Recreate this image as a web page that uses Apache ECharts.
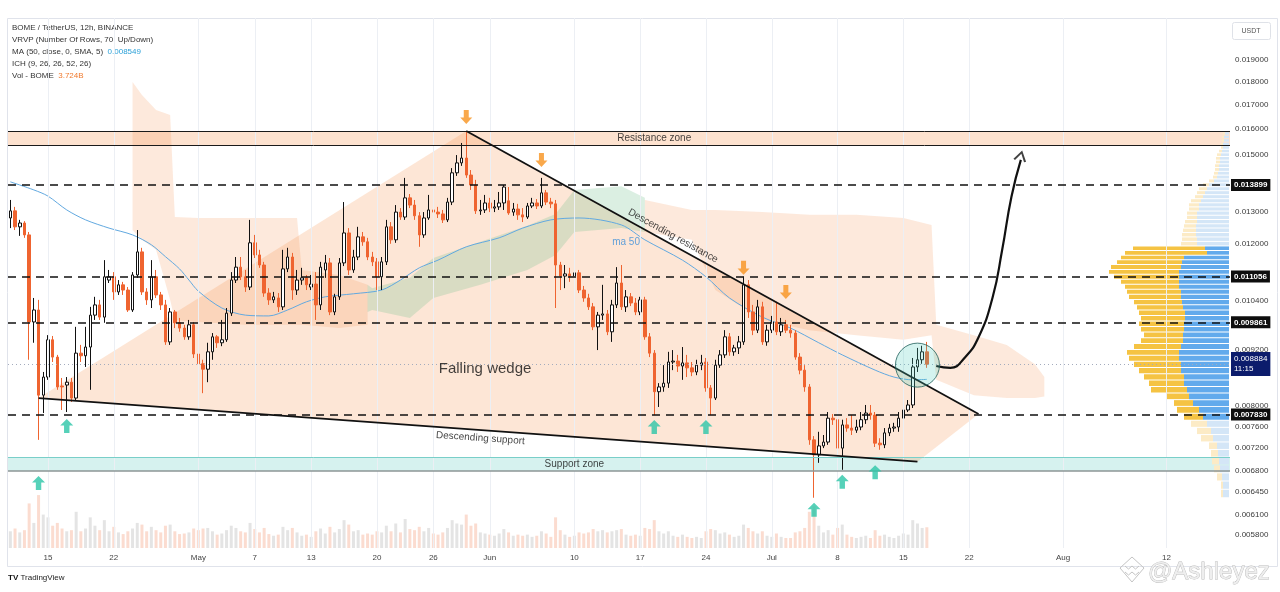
<!DOCTYPE html>
<html><head><meta charset="utf-8">
<script src="https://cdn.jsdelivr.net/npm/echarts@6/dist/echarts.min.js"></script>
<style>html,body{margin:0;padding:0;background:#fff}#c{width:1280px;height:592px}</style>
</head><body><div id="c"></div><script>
// ---------------- DATA ----------------
const slotStartUTC = Date.UTC(2024, 3, 11, 0);   // first 12h candle
const slotCount = 260;                            // visible 12h slots incl. future space
const timeTicks = [['2024-04-15','15'],['2024-04-22','22'],['2024-05-01','May'],['2024-05-07','7'],['2024-05-13','13'],['2024-05-20','20'],['2024-05-26','26'],['2024-06-01','Jun'],['2024-06-10','10'],['2024-06-17','17'],['2024-06-24','24'],['2024-07-01','Jul'],['2024-07-08','8'],['2024-07-15','15'],['2024-07-22','22'],['2024-08-01','Aug'],['2024-08-12','12']];
const priceTicks = [0.019, 0.018, 0.017, 0.016, 0.015, 0.013, 0.012, 0.0104, 0.0092, 0.008, 0.0076, 0.0072, 0.0068, 0.00645, 0.0061, 0.0058];
const keyLevels = [0.013899, 0.011056, 0.009861, 0.00783];
const lastPrice = 0.008884;
const resistanceZone = [0.01591, 0.01536];
const supportZone = [0.007044, 0.0068];

// [open, close, low, high]
const candles = [
[0.01280,0.01303,0.01248,0.01339],[0.01303,0.01252,0.01242,0.01316],[0.01252,0.01264,0.01224,0.01274],[0.01264,0.01227,0.01218,0.01270],
[0.01227,0.00987,0.00898,0.01236],[0.00987,0.01017,0.00937,0.01048],[0.01017,0.00822,0.00735,0.01043],[0.00822,0.00860,0.00786,0.00871],
[0.00860,0.00944,0.00854,0.00955],[0.00944,0.00904,0.00893,0.00953],[0.00904,0.00839,0.00833,0.00909],[0.00841,0.00839,0.00792,0.00858],
[0.00843,0.00849,0.00788,0.00860],[0.00849,0.00816,0.00808,0.00858],[0.00816,0.00913,0.00812,0.00975],[0.00913,0.00907,0.00893,0.00932],
[0.00907,0.00927,0.00882,0.00975],[0.00927,0.01004,0.00833,0.01025],[0.01004,0.01030,0.00992,0.01051],[0.01030,0.00999,0.00992,0.01043],
[0.00999,0.01105,0.00985,0.01152],[0.01096,0.01105,0.01088,0.01124],[0.01105,0.01064,0.01043,0.01118],[0.01064,0.01083,0.01056,0.01096],
[0.01083,0.01069,0.01056,0.01091],[0.01069,0.01017,0.01012,0.01077],[0.01017,0.01110,0.01012,0.01118],[0.01110,0.01176,0.01102,0.01242],
[0.01176,0.01064,0.01056,0.01188],[0.01064,0.01043,0.01030,0.01074],[0.01043,0.01105,0.01022,0.01152],[0.01105,0.01056,0.01048,0.01124],
[0.01056,0.01030,0.01017,0.01064],[0.01030,0.00939,0.00932,0.01043],[0.00939,0.01012,0.00932,0.01022],[0.01012,0.00985,0.00972,0.01017],
[0.00985,0.00972,0.00963,0.00997],[0.00972,0.00951,0.00944,0.00980],[0.00951,0.00980,0.00944,0.00992],[0.00980,0.00911,0.00902,0.00987],
[0.00911,0.00889,0.00880,0.00920],[0.00889,0.00877,0.00826,0.00898],[0.00877,0.00916,0.00849,0.00937],[0.00916,0.00951,0.00898,0.00960],
[0.00951,0.00937,0.00925,0.00955],[0.00937,0.00944,0.00929,0.00992],[0.00944,0.01009,0.00939,0.01022],[0.01009,0.01096,0.01002,0.01118],
[0.01096,0.01132,0.01088,0.01161],[0.01132,0.01105,0.01096,0.01161],[0.01105,0.01077,0.01064,0.01124],[0.01077,0.01203,0.01069,0.01274],
[0.01203,0.01167,0.01158,0.01227],[0.01167,0.01138,0.01130,0.01182],[0.01138,0.01061,0.01051,0.01147],[0.01061,0.01043,0.01030,0.01074],
[0.01043,0.01051,0.01035,0.01064],[0.01048,0.01025,0.01012,0.01061],[0.01025,0.01127,0.01017,0.01182],[0.01127,0.01161,0.01118,0.01188],
[0.01161,0.01069,0.01043,0.01173],[0.01069,0.01096,0.01056,0.01124],[0.01096,0.01102,0.01083,0.01130],[0.01102,0.01083,0.01069,0.01110],
[0.01077,0.01085,0.01069,0.01110],[0.01085,0.01030,0.00992,0.01118],[0.01030,0.01132,0.01017,0.01147],[0.01124,0.01144,0.01102,0.01167],
[0.01144,0.01012,0.01004,0.01158],[0.01012,0.01051,0.01004,0.01059],[0.01051,0.01144,0.01043,0.01158],[0.01144,0.01233,0.01135,0.01332],
[0.01233,0.01124,0.01110,0.01248],[0.01124,0.01161,0.01116,0.01182],[0.01161,0.01221,0.01152,0.01252],[0.01221,0.01206,0.01194,0.01236],
[0.01206,0.01161,0.01152,0.01218],[0.01161,0.01147,0.01135,0.01176],[0.01147,0.01105,0.01069,0.01158],[0.01105,0.01147,0.01069,0.01161],
[0.01147,0.01252,0.01138,0.01274],[0.01252,0.01212,0.01200,0.01267],[0.01212,0.01299,0.01203,0.01322],[0.01299,0.01283,0.01274,0.01312],
[0.01283,0.01346,0.01274,0.01415],[0.01346,0.01322,0.01312,0.01359],[0.01322,0.01287,0.01274,0.01339],[0.01287,0.01227,0.01191,0.01299],
[0.01227,0.01280,0.01218,0.01299],[0.01280,0.01306,0.01274,0.01356],[0.01306,0.01299,0.01287,0.01322],[0.01299,0.01293,0.01280,0.01316],
[0.01293,0.01274,0.01264,0.01306],[0.01274,0.01332,0.01267,0.01346],[0.01332,0.01433,0.01322,0.01450],[0.01433,0.01469,0.01422,0.01498],
[0.01469,0.01487,0.01458,0.01544],[0.01487,0.01425,0.01415,0.01587],[0.01425,0.01390,0.01373,0.01443],[0.01390,0.01303,0.01293,0.01408],
[0.01303,0.01306,0.01290,0.01339],[0.01306,0.01329,0.01296,0.01356],[0.01329,0.01312,0.01299,0.01346],[0.01312,0.01316,0.01299,0.01339],
[0.01316,0.01329,0.01306,0.01366],[0.01329,0.01383,0.01306,0.01390],[0.01336,0.01296,0.01290,0.01383],[0.01299,0.01309,0.01287,0.01329],
[0.01309,0.01290,0.01274,0.01326],[0.01290,0.01283,0.01267,0.01312],[0.01283,0.01319,0.01277,0.01329],[0.01319,0.01329,0.01312,0.01346],
[0.01329,0.01319,0.01309,0.01342],[0.01319,0.01363,0.01312,0.01415],[0.01363,0.01332,0.01322,0.01373],[0.01332,0.01326,0.01312,0.01346],
[0.01326,0.01138,0.01022,0.01339],[0.01138,0.01107,0.01069,0.01147],[0.01107,0.01113,0.01074,0.01138],[0.01113,0.01107,0.01091,0.01130],
[0.01107,0.01116,0.01096,0.01138],[0.01116,0.01069,0.01061,0.01124],[0.01069,0.01048,0.01038,0.01080],[0.01048,0.01025,0.01017,0.01059],
[0.01025,0.00975,0.00967,0.01035],[0.00975,0.01004,0.00920,0.01012],[0.01004,0.01007,0.00992,0.01083],[0.01007,0.00963,0.00955,0.01017],
[0.00963,0.01030,0.00939,0.01043],[0.01030,0.01088,0.01022,0.01132],[0.01088,0.01025,0.01017,0.01138],[0.01025,0.01051,0.01012,0.01069],
[0.01051,0.01035,0.01027,0.01061],[0.01035,0.01012,0.01004,0.01048],[0.01012,0.01043,0.01004,0.01051],[0.01043,0.00951,0.00944,0.01051],
[0.00951,0.00913,0.00904,0.00960],[0.00913,0.00829,0.00782,0.00920],[0.00829,0.00839,0.00798,0.00847],[0.00839,0.00847,0.00829,0.00886],
[0.00847,0.00893,0.00837,0.00916],[0.00893,0.00895,0.00875,0.00920],[0.00895,0.00884,0.00871,0.00909],[0.00884,0.00891,0.00854,0.00927],
[0.00891,0.00880,0.00860,0.00909],[0.00880,0.00871,0.00862,0.00893],[0.00871,0.00886,0.00864,0.00898],[0.00886,0.00891,0.00875,0.00909],
[0.00893,0.00837,0.00829,0.00902],[0.00837,0.00816,0.00782,0.00843],[0.00816,0.00886,0.00812,0.00898],[0.00886,0.00909,0.00880,0.00920],
[0.00909,0.00951,0.00902,0.00967],[0.00951,0.00916,0.00907,0.00960],[0.00916,0.00925,0.00907,0.00932],[0.00925,0.00939,0.00911,0.00953],
[0.00939,0.01083,0.00932,0.01105],[0.01083,0.01012,0.00997,0.01096],[0.01012,0.00967,0.00955,0.01030],[0.00967,0.01025,0.00960,0.01043],
[0.01025,0.00939,0.00932,0.01038],[0.00939,0.00967,0.00930,0.00980],[0.00967,0.00987,0.00960,0.01002],[0.00987,0.00963,0.00955,0.01038],
[0.00963,0.00980,0.00953,0.00997],[0.00980,0.00967,0.00960,0.00992],[0.00967,0.00960,0.00949,0.00980],[0.00960,0.00904,0.00898,0.00967],
[0.00904,0.00875,0.00866,0.00913],[0.00875,0.00839,0.00829,0.00886],[0.00839,0.00735,0.00726,0.00845],[0.00735,0.00708,0.00636,0.00742],
[0.00708,0.00724,0.00694,0.00750],[0.00724,0.00731,0.00720,0.00744],[0.00731,0.00776,0.00726,0.00788],[0.00776,0.00773,0.00763,0.00784],
[0.00773,0.00720,0.00713,0.00808],[0.00720,0.00763,0.00682,0.00773],[0.00763,0.00757,0.00750,0.00776],[0.00757,0.00753,0.00744,0.00782],
[0.00753,0.00759,0.00748,0.00773],[0.00759,0.00773,0.00753,0.00788],[0.00773,0.00786,0.00765,0.00802],[0.00786,0.00782,0.00773,0.00802],
[0.00782,0.00729,0.00722,0.00788],[0.00729,0.00726,0.00717,0.00738],[0.00726,0.00748,0.00720,0.00757],[0.00748,0.00757,0.00742,0.00765],
[0.00757,0.00759,0.00750,0.00767],[0.00759,0.00776,0.00750,0.00788],[0.00776,0.00792,0.00773,0.00804],[0.00792,0.00802,0.00788,0.00812],
[0.00802,0.00882,0.00796,0.00902],[0.00882,0.00898,0.00871,0.00925],[0.00898,0.00916,0.00889,0.00930],[0.00916,0.00888,0.00880,0.00939]
];

// volume in billions BOME
const volumes = [
3.0,3.5,2.8,3.2,8.0,4.5,9.5,6.0,5.5,4.0, 4.5,3.5,3.0,3.2,6.5,3.0,3.5,5.5,4.0,3.2,
5.0,3.0,3.8,2.8,2.5,3.0,3.5,4.5,4.2,3.0, 3.8,3.2,2.8,4.0,4.2,3.0,2.5,2.6,2.8,3.5,
3.2,3.5,3.6,3.0,2.4,2.6,3.2,4.0,3.6,3.0, 2.8,4.5,3.4,2.8,3.6,2.5,2.2,2.4,3.8,3.2,
3.6,2.8,2.2,2.4,2.0,3.0,3.5,2.6,3.8,2.8, 3.4,5.0,4.2,3.0,3.2,2.4,2.6,2.4,3.0,2.8,
4.0,3.0,4.4,2.8,5.2,3.4,3.2,3.8,3.0,3.6, 2.6,2.4,2.8,3.6,5.0,4.4,4.2,6.0,4.0,4.4,
2.8,2.6,2.4,2.2,2.6,3.4,2.8,2.2,2.4,2.2, 2.4,2.0,2.2,3.0,2.6,2.0,5.5,3.2,2.4,2.0,
2.2,2.8,2.6,2.8,3.4,3.0,3.2,2.8,3.0,3.2, 3.4,2.4,2.2,2.4,2.2,3.6,3.4,5.0,3.0,2.6,
3.0,2.2,2.0,2.4,2.0,1.8,2.0,1.8,3.0,3.4, 3.2,2.6,2.8,2.4,2.0,2.2,4.2,3.6,3.0,2.6,
3.0,2.2,2.0,2.6,2.0,1.8,1.8,2.8,3.0,3.6, 6.5,7.5,4.0,2.8,3.2,2.4,3.6,4.2,2.4,2.0,
1.8,2.0,2.2,1.8,3.2,2.2,2.4,2.0,1.8,2.2, 2.6,2.4,5.0,4.4,3.6,3.724
];

// MA(50) read at sample candles: [candle index, value]
const maPoints = [[0,0.01401],[5,0.01373],[8,0.01352],[12,0.01306],[16,0.01274],[21,0.01248],[26,0.01227],[30,0.01197],[33,0.01162],[36,0.01127],[38,0.01096],[40,0.01066],[45,0.01022],[50,0.01004],[55,0.01002],[59,0.01017],[63,0.01038],[67,0.01051],[73,0.01059],[79,0.01069],[83,0.01096],[87,0.01130],[91,0.01152],[97,0.01191],[104,0.01218],[109,0.01248],[115,0.01274],[121,0.01280],[130,0.01258],[135,0.01212],[143,0.01152],[148,0.01105],[153,0.01048],[160,0.00999],[166,0.00972],[172,0.00937],[177,0.00909],[184,0.00875],[188,0.00860],[192,0.00854],[195,0.00855]];

// Ichimoku cloud edges: [slot index, upper, lower]
const kumoBear1 = [[26,0.01798,0.01242],[28,0.01741,0.01212],[31,0.01677,0.01182],[34,0.01656,0.01043],[35,0.01283,0.00992],[40,0.01280,0.00987],[50,0.01280,0.00980],[61,0.01280,0.00980],[62,0.01124,0.00980],[70,0.01110,0.00972],[76,0.01083,0.00980]];
const kumoBull = [[76,0.01083,0.01012],[77,0.01074,0.01017],[85,0.01102,0.00997],[90,0.01158,0.01048],[100,0.01206,0.01083],[110,0.01255,0.01124],[116,0.01293,0.01167],[120,0.01373,0.01236],[130,0.01386,0.01248],[135,0.01346,0.01236]];
const kumoBear2 = [[135,0.01339,0.01236],[145,0.01306,0.01212],[150,0.01306,0.01069],[160,0.01299,0.00992],[170,0.01290,0.00967],[180,0.01290,0.00955],[190,0.01280,0.00944],[196,0.01258,0.00955],[197,0.00980,0.00854],[205,0.00955,0.00822],[212,0.00932,0.00816],[218,0.00888,0.00816],[220,0.00860,0.00819]];

// Visible-range volume profile, 70 rows (up / down volume, relative)
const vpBase = 0.00636, vpStep = 0.000136, vaFirstRow = 10, vaLastRow = 40;
const vpUp = [6,6,7,9,10,11,12,16,18,22, 26,30,36,40,42,45,45,48,48,50, 50,48,46,46,45,45,44,44,46,47, 48,48,50,50,50,50,48,47,45,22, 24,32,32,33,33,33,32,32,32,30, 30,28,26,24,22,20,15,12,11,10, 10,9,9,8,7,6,6,5,5,4];
const vpDown = [2,2,5,6,7,7,8,12,14,16, 19,22,19,22,36,35,40,42,47,50, 52,47,42,39,43,45,44,46,46,48, 52,54,54,58,65,70,70,65,63,82, 72,16,15,14,13,12,12,10,10,10, 10,10,8,8,8,6,5,4,4,4, 4,4,4,4,3,2,2,2,2,2];

// drawings (anchored in slot index / price)
const wedgeVertices = [[6,0.00816],[97,0.01591],[206,0.00784],[193,0.00696]];
const resistanceLine = [[97,0.01591],[206,0.00784]];
const supportLine = [[6,0.00816],[193,0.00696]];
const projection = [[197,0.00884],[200,0.00880],[203,0.00902],[206,0.00950],[209,0.01050],[211,0.01180],[213,0.01350],[215,0.01480]];
const projectionHead = [215,0.01495];
const sellArrows = [[97,0.01648],[113,0.01480],[156,0.01130],[165,0.01064]];
const buyArrows = [[12,0.00761],[6,0.00660],[137,0.00759],[148,0.00759],[171,0.00617],[177,0.00662],[184,0.00678]];
const breakoutCircle = [193,0.00886];
const annotations = [
  {text:'Resistance zone', at:[137,0.01563], size:10},
  {text:'Support zone', at:[120,0.00692], size:10},
  {text:'Falling wedge', at:[101,0.00877], size:15},
  {text:'Descending resistance', at:[141,0.01224], size:10, rotate:-29},
  {text:'Descending support', at:[100,0.00738], size:10, rotate:-4},
  {text:'ma 50', at:[131,0.01206], size:10, color:'#3a8fd9'}
];

// ---------------- CHART ----------------
const FONT = '"Liberation Sans", Arial, sans-serif';
const downColor = '#ef6430';
const yMin = 0.005609, yMax = 0.021103;

const categories = Array.from({length: slotCount}, (_, k) => new Date(slotStartUTC + k * 43200000).toISOString().slice(0, 13));
const tickMap = {};
timeTicks.forEach(([d, l]) => { tickMap[d + 'T00'] = l; });

const vpRows = vpUp.map((u, k) => [vpBase + k * vpStep, vpBase + (k + 1) * vpStep, u, vpDown[k]]);

function kumoSeries(points, fill) {
  return {
    type: 'custom', xAxisIndex: 0, yAxisIndex: 0, z: 1, silent: true, data: points,
    renderItem: (p, api) => {
      if (p.dataIndex !== 0) return null;
      const pts = points.map(q => api.coord([q[0], q[1]])).concat(points.slice().reverse().map(q => api.coord([q[0], q[2]])));
      return {type: 'polygon', shape: {points: pts}, style: {fill: fill}};
    }
  };
}

const axisLbl = {show: true, position: 'end', distance: 5, color: '#3a3a3a', fontSize: 8, fontFamily: FONT};
const yTickLines = priceTicks.map(v => ({yAxis: v, lineStyle: {color: 'rgba(255,255,255,0)', width: 0}, label: Object.assign({}, axisLbl, {formatter: v.toFixed(6)})}));
const levelLines = keyLevels.map(v => ({yAxis: v, lineStyle: {color: '#111', width: 1.6, type: [8, 6]},
  label: {show: true, position: 'end', distance: 1, formatter: v.toFixed(6), color: '#fff', backgroundColor: '#0e0e0e', padding: [2, 3, 2, 3], fontSize: 8, fontWeight: 'bold', fontFamily: FONT}}));
const lastLine = {yAxis: lastPrice, lineStyle: {color: '#a3abbd', width: 1, type: [1, 3]},
  label: {show: true, position: 'end', distance: 1, formatter: lastPrice.toFixed(6) + '\n11:15', color: '#fff', backgroundColor: '#0c1c6c', padding: [2, 3, 2, 3], lineHeight: 10, fontSize: 8, fontFamily: FONT}};

const upArrowPath = 'path://M6,0 L12,6 L8.5,6 L8.5,13 L3.5,13 L3.5,6 L0,6 Z';
const downArrowPath = 'path://M3.5,0 L8.5,0 L8.5,7 L12,7 L6,13 L0,7 L3.5,7 Z';
const chevronPath = 'path://M0,10 L6,0 L12,10 L10.3,11 L6,3.4 L1.7,11 Z';

const option = {
  animation: false,
  backgroundColor: '#ffffff',
  textStyle: {fontFamily: FONT},
  grid: [
    {left: 8, right: 50, top: 18, bottom: 44, containLabel: false, outerBoundsMode: 'none'},
    {left: 8, right: 50, top: 470, bottom: 44, containLabel: false, outerBoundsMode: 'none'},
    {left: 1099, right: 51, top: 18, bottom: 44, containLabel: false, outerBoundsMode: 'none'}
  ],
  xAxis: [
    {type: 'category', gridIndex: 0, data: categories, boundaryGap: true,
      axisLine: {show: false}, axisTick: {show: false}, splitLine: {show: false},
      axisLabel: {interval: (i, v) => tickMap[v] !== undefined, formatter: v => tickMap[v] || '', color: '#444', fontSize: 8, fontFamily: FONT, margin: 6}},
    {type: 'category', gridIndex: 1, data: categories, boundaryGap: true, show: false},
    {type: 'value', gridIndex: 2, inverse: true, min: 0, max: 130, show: false}
  ],
  yAxis: [
    {type: 'log', logBase: 10, gridIndex: 0, min: yMin, max: yMax, show: false},
    {type: 'value', gridIndex: 1, min: 0, max: 14, show: false},
    {type: 'log', logBase: 10, gridIndex: 2, min: yMin, max: yMax, show: false}
  ],
  series: [
    {type: 'line', name: 'grid', xAxisIndex: 0, yAxisIndex: 0, data: [], z: 0, silent: true,
      markLine: {silent: true, symbol: ['none', 'none'], label: {show: false}, lineStyle: {color: '#eceff4', width: 1, type: 'solid'},
        data: timeTicks.map(t => ({xAxis: t[0] + 'T00'}))}},
    {type: 'bar', name: 'Vol', xAxisIndex: 1, yAxisIndex: 1, barWidth: 3, z: 1, silent: true,
      data: volumes.map((v, i) => ({value: v, itemStyle: {color: candles[i][1] >= candles[i][0] ? 'rgba(120,120,120,0.2)' : 'rgba(240,110,60,0.24)'}}))},
    {type: 'custom', name: 'wedge', xAxisIndex: 0, yAxisIndex: 0, z: 1, silent: true, data: [wedgeVertices[0]],
      renderItem: (p, api) => ({type: 'polygon', shape: {points: wedgeVertices.map(v => api.coord(v))}, style: {fill: 'rgba(245,140,70,0.22)'}})},
    kumoSeries(kumoBear1, 'rgba(245,145,80,0.2)'),
    kumoSeries(kumoBull, 'rgba(110,190,140,0.25)'),
    kumoSeries(kumoBear2, 'rgba(245,145,80,0.2)'),
    {type: 'custom', name: 'VRVP', xAxisIndex: 2, yAxisIndex: 2, z: 2, silent: true, data: vpRows,
      renderItem: (p, api) => {
        const k = p.dataIndex;
        const lo = api.value(0), hi = api.value(1), up = api.value(2), dn = api.value(3);
        const a = api.coord([0, lo]), b = api.coord([0, hi]);
        const u = api.coord([up, lo]), t = api.coord([up + dn, lo]);
        const inVA = k >= vaFirstRow && k <= vaLastRow;
        const y = b[1] + 0.5, h = Math.max(0.8, a[1] - b[1] - 1);
        return {type: 'group', children: [
          {type: 'rect', shape: {x: u[0], y: y, width: a[0] - u[0], height: h}, style: {fill: inVA ? '#62aaec' : '#d4e6f7'}},
          {type: 'rect', shape: {x: t[0], y: y, width: u[0] - t[0], height: h}, style: {fill: inVA ? '#f5c343' : '#fcebc6'}}
        ]};
      }},
    {type: 'line', name: 'zones', xAxisIndex: 0, yAxisIndex: 0, data: [], z: 3, silent: true,
      markArea: {silent: true, data: [
        [{yAxis: resistanceZone[0], itemStyle: {color: 'rgba(248,160,95,0.3)'}}, {yAxis: resistanceZone[1]}],
        [{yAxis: supportZone[0], itemStyle: {color: 'rgba(95,205,195,0.26)'}}, {yAxis: supportZone[1]}]
      ]},
      markLine: {silent: true, precision: 8, symbol: ['none', 'none'], label: {show: false}, data: [
        {yAxis: resistanceZone[0], lineStyle: {color: '#1a1a1a', width: 1, type: 'solid'}},
        {yAxis: resistanceZone[1], lineStyle: {color: '#1a1a1a', width: 1, type: 'solid'}},
        {yAxis: supportZone[0], lineStyle: {color: '#79cfc9', width: 1, type: 'solid'}},
        {yAxis: supportZone[1], lineStyle: {color: '#8c9696', width: 1.6, type: 'solid'}}
      ]}},
    {type: 'candlestick', name: 'BOMEUSDT', xAxisIndex: 0, yAxisIndex: 0, z: 4, barWidth: 3, data: candles,
      itemStyle: {color: '#ffffff', color0: downColor, borderColor: '#111111', borderColor0: downColor, borderWidth: 1}},
    {type: 'line', name: 'MA50', xAxisIndex: 0, yAxisIndex: 0, data: maPoints, smooth: 0.3, symbol: 'none', z: 4, silent: true,
      lineStyle: {color: '#62a9e0', width: 1}},
    {type: 'line', name: 'resistance', data: resistanceLine, symbol: 'none', z: 5, silent: true, lineStyle: {color: '#111', width: 1.8}},
    {type: 'line', name: 'support', data: supportLine, symbol: 'none', z: 5, silent: true, lineStyle: {color: '#111', width: 1.8}},
    {type: 'scatter', name: 'breakout', data: [breakoutCircle], symbol: 'circle', symbolSize: 44, z: 5, silent: true,
      itemStyle: {color: 'rgba(80,205,190,0.3)', borderColor: '#1f5f5a', borderWidth: 1}},
    {type: 'line', name: 'projection', data: projection, smooth: 0.5, symbol: 'none', z: 5, silent: true,
      lineStyle: {color: '#111', width: 2.2}},
    {type: 'scatter', name: 'projectionHead', data: [projectionHead], symbol: chevronPath, symbolSize: [13, 11], symbolRotate: -14, z: 6, silent: true, itemStyle: {color: '#111'}},
    {type: 'scatter', name: 'sell', data: sellArrows, symbol: downArrowPath, symbolSize: [12, 14], z: 6, silent: true, itemStyle: {color: '#f7921e'}},
    {type: 'scatter', name: 'buy', data: buyArrows, symbol: upArrowPath, symbolSize: [13, 14], z: 6, silent: true, itemStyle: {color: '#2cc6a8'}},
    {type: 'line', name: 'axisLabels', xAxisIndex: 0, yAxisIndex: 0, data: [], z: 6, silent: true,
      markLine: {silent: true, precision: 8, symbol: ['none', 'none'], lineStyle: {color: 'rgba(255,255,255,0)', width: 0}, data: yTickLines}},
    {type: 'line', name: 'levels', xAxisIndex: 0, yAxisIndex: 0, data: [], z: 7, silent: true,
      markLine: {silent: true, precision: 8, symbol: ['none', 'none'], data: [lastLine].concat(levelLines)}},
    {type: 'scatter', name: 'notes', z: 7, silent: true, symbolSize: 1, itemStyle: {color: 'rgba(0,0,0,0)'},
      data: annotations.map(a => ({value: a.at, label: {show: true, position: 'inside', formatter: a.text, fontSize: a.size, color: a.color || '#111', rotate: a.rotate || 0, fontFamily: FONT}}))}
  ],
  graphic: [
    {type: 'rect', silent: true, shape: {x: 7.5, y: 18.5, width: 1270, height: 548}, style: {fill: null, stroke: '#e0e3eb', lineWidth: 1}},
    {type: 'rect', silent: true, shape: {x: 1232.5, y: 22.5, width: 38, height: 17, r: 2}, style: {fill: '#fff', stroke: '#dfe2e8', lineWidth: 1}},
    {type: 'text', silent: true, x: 1251, y: 31, style: {text: 'USDT', fill: '#555', font: '7px ' + FONT, textAlign: 'center', textVerticalAlign: 'middle'}},
    {type: 'text', silent: true, x: 12, y: 24, style: {text: 'BOME / TetherUS, 12h, BINANCE', fill: '#333', font: '8px ' + FONT}},
    {type: 'text', silent: true, x: 12, y: 36, style: {text: 'VRVP (Number Of Rows, 70, Up/Down)', fill: '#333', font: '8px ' + FONT}},
    {type: 'text', silent: true, x: 12, y: 48, style: {text: 'MA (50, close, 0, SMA, 5)  {b|0.008549}', fill: '#333', font: '8px ' + FONT, rich: {b: {fill: '#2aa0d8', font: '8px ' + FONT}}}},
    {type: 'text', silent: true, x: 12, y: 60, style: {text: 'ICH (9, 26, 26, 52, 26)', fill: '#333', font: '8px ' + FONT}},
    {type: 'text', silent: true, x: 12, y: 72, style: {text: 'Vol - BOME  {o|3.724B}', fill: '#333', font: '8px ' + FONT, rich: {o: {fill: '#f07a2e', font: '8px ' + FONT}}}},
    {type: 'text', silent: true, x: 8, y: 574, style: {text: '{t|TV} TradingView', fill: '#222', font: '8px ' + FONT, rich: {t: {fill: '#111', font: 'bold 8px ' + FONT}}}},
    {type: 'polyline', silent: true, shape: {points: [[1120,568],[1132,557],[1144,568],[1132,582],[1120,568]]}, style: {stroke: '#c4c4c4', lineWidth: 1, fill: null}},
    {type: 'polyline', silent: true, shape: {points: [[1125,566],[1128.5,569],[1132,566],[1135.5,569],[1139,566]]}, style: {stroke: '#c4c4c4', lineWidth: 1, fill: null}},
    {type: 'polyline', silent: true, shape: {points: [[1125,572],[1128.5,575],[1132,572],[1135.5,575],[1139,572]]}, style: {stroke: '#c4c4c4', lineWidth: 1, fill: null}},
    {type: 'text', silent: true, x: 1148, y: 572, style: {text: '@Ashleyez', fill: '#eeeeee', stroke: '#b9b9b9', lineWidth: 0.8, font: '24px ' + FONT, textVerticalAlign: 'middle'}}
  ]
};

const chart = echarts.init(document.getElementById('c'));
chart.setOption(option);
</script></body></html>
